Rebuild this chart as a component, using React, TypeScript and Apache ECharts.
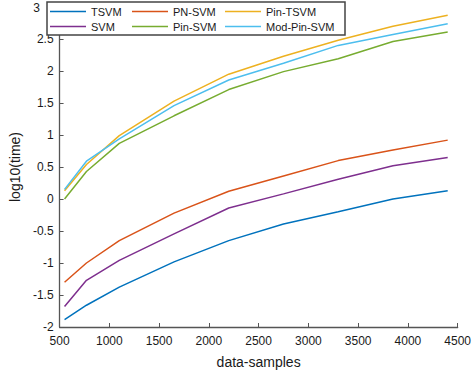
import React, { useEffect, useRef } from "react";
import * as echarts from "echarts";

const samples = [550, 770, 1100, 1650, 2200, 2750, 3300, 3850, 4400];
const tsvm = [-1.885, -1.66, -1.376, -0.983, -0.65, -0.39, -0.2, 0.0, 0.13];
const pnSvm = [-1.3, -1.0, -0.65, -0.22, 0.12, 0.36, 0.6, 0.765, 0.92];
const pinTsvm = [0.13, 0.54, 0.99, 1.53, 1.95, 2.23, 2.48, 2.7, 2.87];
const svm = [-1.68, -1.27, -0.96, -0.545, -0.14, 0.08, 0.31, 0.52, 0.65];
const pinSvm = [0.0, 0.43, 0.87, 1.3, 1.71, 1.99, 2.19, 2.46, 2.61];
const modPinSvm = [0.15, 0.59, 0.94, 1.46, 1.86, 2.12, 2.4, 2.57, 2.74];

const yMax = 3;
const seriesNames = ["TSVM", "PN-SVM", "Pin-TSVM", "SVM", "Pin-SVM", "Mod-Pin-SVM"];
const seriesData = [tsvm, pnSvm, pinTsvm, svm, pinSvm, modPinSvm];
const colors = ["#0072BD", "#D95319", "#EDB120", "#7E2F8E", "#77AC30", "#4DBEEE"];

const FONT = "Liberation Sans, Arial, sans-serif";

export default function App() {
  const ref = useRef<HTMLDivElement>(null);
  useEffect(() => {
    document.body.style.margin = "0";
    if (!ref.current) return;
    const chart = echarts.init(ref.current, null, { renderer: "svg" });
    const legendBase = {
      orient: "vertical" as const,
      top: 5,
      padding: 0,
      icon: "rect",
      itemWidth: 36,
      itemHeight: 1.5,
      itemGap: 2,
      textStyle: { fontSize: 11, color: "#1a1a1a", fontFamily: FONT, lineHeight: 13 },
    };
    chart.setOption({
      animation: false,
      backgroundColor: "#ffffff",
      color: colors,
      grid: { left: 46, right: 16, top: 7, bottom: 42, containLabel: false },
      xAxis: {
        type: "value",
        min: 500,
        max: 4500,
        interval: 500,
        name: "data-samples",
        nameLocation: "middle",
        nameGap: 28,
        nameTextStyle: { fontSize: 14, color: "#1a1a1a", fontFamily: FONT },
        axisLine: { show: true, onZero: false, lineStyle: { color: "#555555", width: 1.3 } },
        axisTick: { show: true, inside: true, length: 4, lineStyle: { color: "#555555" } },
        axisLabel: {
          fontSize: 12,
          color: "#1a1a1a",
          fontFamily: FONT,
          margin: 8,
          formatter: (v: number) => String(v),
        },
        splitLine: { show: false },
      },
      yAxis: {
        type: "value",
        min: -2,
        max: yMax,
        interval: 0.5,
        name: "log10(time)",
        nameLocation: "middle",
        nameGap: 32,
        nameTextStyle: { fontSize: 14, color: "#1a1a1a", fontFamily: FONT },
        axisLine: { show: true, onZero: false, lineStyle: { color: "#555555", width: 1.3 } },
        axisTick: { show: true, inside: true, length: 4, lineStyle: { color: "#555555" } },
        axisLabel: {
          fontSize: 12,
          color: "#1a1a1a",
          fontFamily: FONT,
          margin: 6,
          showMaxLabel: true,
          formatter: (v: number) => (v === yMax ? "" : String(v)),
        },
        splitLine: { show: false },
      },
      graphic: [
        {
          type: "rect",
          z: 50,
          silent: true,
          shape: { x: 47, y: 2, width: 298, height: 33 },
          style: { fill: "#ffffff", stroke: "#444444", lineWidth: 1.5 },
        },
        {
          type: "text",
          z: 50,
          silent: true,
          x: 40,
          y: 8,
          style: {
            text: String(yMax),
            fill: "#1a1a1a",
            fontSize: 12,
            fontFamily: FONT,
            align: "right",
            verticalAlign: "middle",
          },
        },
      ],
      legend: [
        { ...legendBase, left: 50, data: ["TSVM", "SVM"], z: 60 },
        { ...legendBase, left: 132, data: ["PN-SVM", "Pin-SVM"], z: 60 },
        { ...legendBase, left: 225, data: ["Pin-TSVM", "Mod-Pin-SVM"], z: 60 },
      ],
      series: seriesNames.map((name, i) => ({
        name,
        type: "line",
        symbol: "none",
        data: samples.map((x, j) => [x, seriesData[i][j]]),
        lineStyle: { width: 1.5, color: colors[i] },
        itemStyle: { color: colors[i] },
      })),
    });
    return () => chart.dispose();
  }, []);
  return <div ref={ref} style={{ width: 474, height: 374 }} />;
}
